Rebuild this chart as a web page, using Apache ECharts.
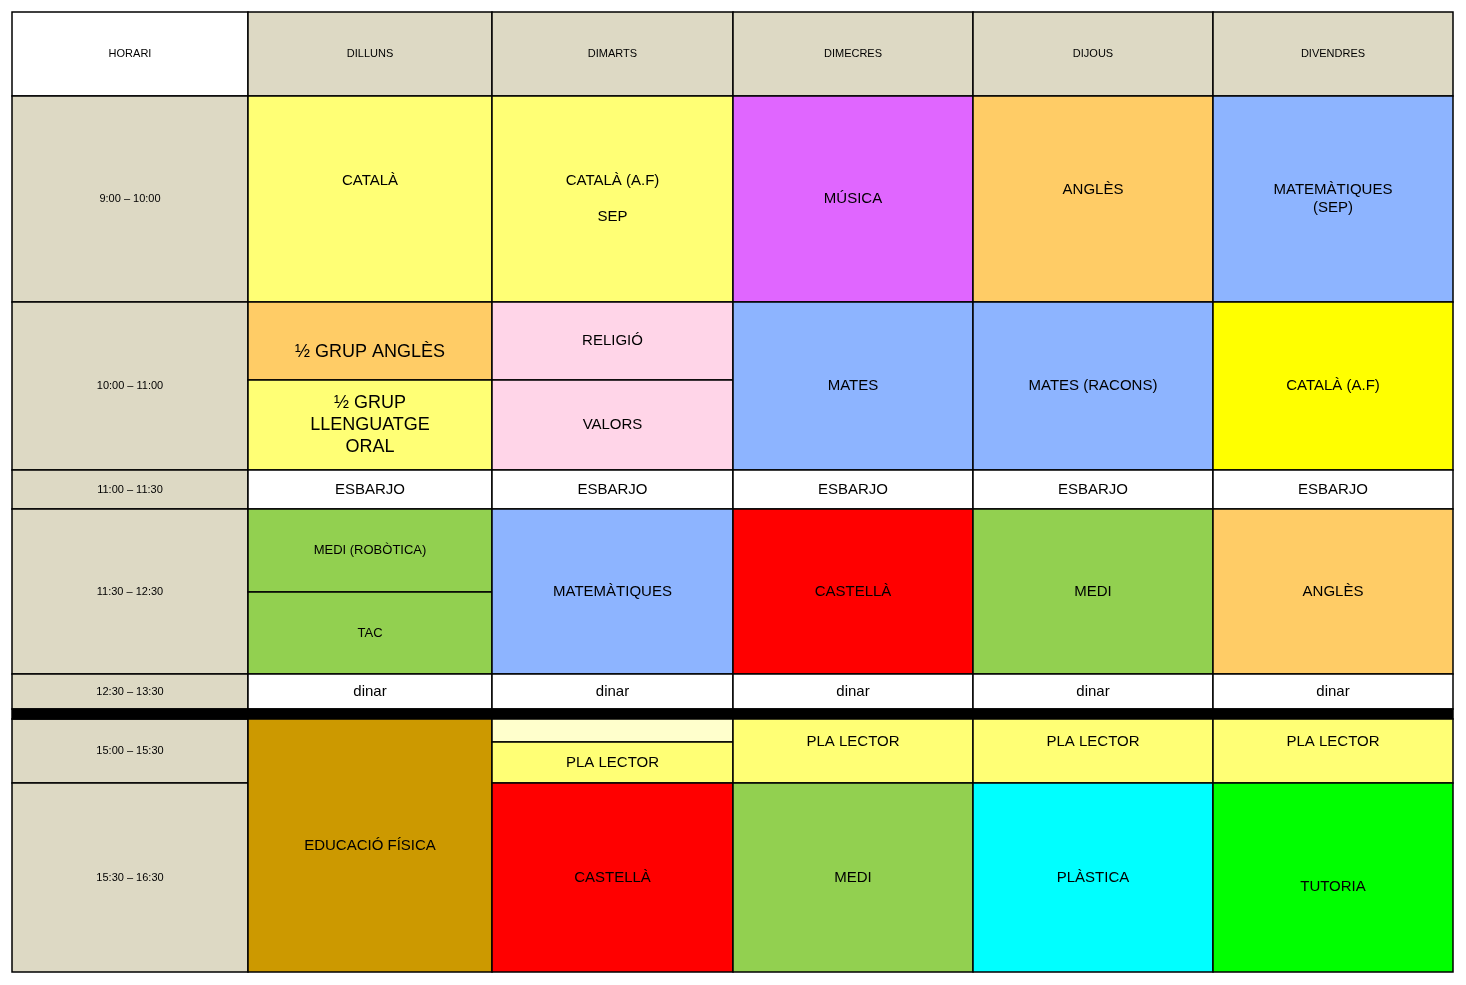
<!DOCTYPE html>
<html>
<head>
<meta charset="utf-8">
<script src="https://cdn.jsdelivr.net/npm/echarts/dist/echarts.min.js"></script>
<style>html,body{margin:0;background:#fff}#c{width:1466px;height:985px}</style>
</head>
<body>
<div id="c"></div>
<script>
// column and row edges of the grid
var colEdges = [12, 248, 492, 733, 973, 1213, 1453];
var rowEdges = [12, 96, 302, 470, 509, 674, 709, 719, 783, 972];

var days = ['DILLUNS', 'DIMARTS', 'DIMECRES', 'DIJOUS', 'DIVENDRES'];
var hours = ['9:00 – 10:00', '10:00 – 11:00', '11:00 – 11:30', '11:30 – 12:30', '12:30 – 13:30', '', '15:00 – 15:30', '15:30 – 16:30'];

// cells: [colStart, colEnd, yTop, yBottom, colour, text, fontSize]
var cells = [
  [0, 1, 12, 96, '#ffffff', 'HORARI', 11],
  [1, 2, 12, 96, '#ddd9c4', 'DILLUNS', 11],
  [2, 3, 12, 96, '#ddd9c4', 'DIMARTS', 11],
  [3, 4, 12, 96, '#ddd9c4', 'DIMECRES', 11],
  [4, 5, 12, 96, '#ddd9c4', 'DIJOUS', 11],
  [5, 6, 12, 96, '#ddd9c4', 'DIVENDRES', 11],
  [0, 1, 96, 302, '#ddd9c4', '9:00 – 10:00', 11],
  [0, 1, 302, 470, '#ddd9c4', '10:00 – 11:00', 11],
  [0, 1, 470, 509, '#ddd9c4', '11:00 – 11:30', 11],
  [0, 1, 509, 674, '#ddd9c4', '11:30 – 12:30', 11],
  [0, 1, 674, 709, '#ddd9c4', '12:30 – 13:30', 11],
  [0, 1, 719, 783, '#ddd9c4', '15:00 – 15:30', 11],
  [0, 1, 783, 972, '#ddd9c4', '15:30 – 16:30', 11],
  [1, 2, 96, 302, '#ffff75', 'CATALÀ\n\n', 15],
  [2, 3, 96, 302, '#ffff75', 'CATALÀ (A.F)\n\nSEP', 15],
  [3, 4, 96, 302, '#e066ff', 'MÚSICA', 15],
  [4, 5, 96, 302, '#ffcc66', 'ANGLÈS\n', 15],
  [5, 6, 96, 302, '#8db4ff', 'MATEMÀTIQUES\n(SEP)', 15],
  [1, 2, 302, 380, '#ffcc66', '\n½ GRUP ANGLÈS', 18],
  [1, 2, 380, 470, '#ffff75', '½ GRUP\nLLENGUATGE\nORAL', 18],
  [2, 3, 302, 380, '#ffd5e8', 'RELIGIÓ', 15],
  [2, 3, 380, 470, '#ffd5e8', 'VALORS', 15],
  [3, 4, 302, 470, '#8db4ff', 'MATES', 15],
  [4, 5, 302, 470, '#8db4ff', 'MATES (RACONS)', 15],
  [5, 6, 302, 470, '#ffff00', 'CATALÀ (A.F)', 15],
  [1, 2, 470, 509, '#ffffff', 'ESBARJO', 15],
  [2, 3, 470, 509, '#ffffff', 'ESBARJO', 15],
  [3, 4, 470, 509, '#ffffff', 'ESBARJO', 15],
  [4, 5, 470, 509, '#ffffff', 'ESBARJO', 15],
  [5, 6, 470, 509, '#ffffff', 'ESBARJO', 15],
  [1, 2, 509, 592, '#92d050', 'MEDI (ROBÒTICA)', 13],
  [1, 2, 592, 674, '#92d050', 'TAC', 13],
  [2, 3, 509, 674, '#8db4ff', 'MATEMÀTIQUES', 15],
  [3, 4, 509, 674, '#ff0000', 'CASTELLÀ', 15],
  [4, 5, 509, 674, '#92d050', 'MEDI', 15],
  [5, 6, 509, 674, '#ffcc66', 'ANGLÈS', 15],
  [1, 2, 674, 709, '#ffffff', 'dinar', 15],
  [2, 3, 674, 709, '#ffffff', 'dinar', 15],
  [3, 4, 674, 709, '#ffffff', 'dinar', 15],
  [4, 5, 674, 709, '#ffffff', 'dinar', 15],
  [5, 6, 674, 709, '#ffffff', 'dinar', 15],
  [0, 6, 709, 719, '#000000', '', 15],
  [1, 2, 719, 972, '#cc9900', 'EDUCACIÓ FÍSICA', 15],
  [2, 3, 719, 742, '#ffffcc', '', 15],
  [2, 3, 742, 783, '#ffff75', 'PLA LECTOR', 15],
  [3, 4, 719, 783, '#ffff75', 'PLA LECTOR\n', 15],
  [4, 5, 719, 783, '#ffff75', 'PLA LECTOR\n', 15],
  [5, 6, 719, 783, '#ffff75', 'PLA LECTOR\n', 15],
  [2, 3, 783, 972, '#ff0000', 'CASTELLÀ', 15],
  [3, 4, 783, 972, '#92d050', 'MEDI', 15],
  [4, 5, 783, 972, '#00ffff', 'PLÀSTICA', 15],
  [5, 6, 783, 972, '#00ff00', '\nTUTORIA', 15]
];

var chart = echarts.init(document.getElementById('c'));
chart.setOption({
  animation: false,
  grid: { left: 0, right: 0, top: 0, bottom: 0 },
  xAxis: { type: 'value', min: 0, max: 1466, show: false },
  yAxis: { type: 'value', min: 0, max: 985, inverse: true, show: false },
  series: [{
    type: 'custom',
    data: cells.map(function (c) { return [colEdges[c[0]], colEdges[c[1]], c[2], c[3]]; }),
    renderItem: function (params, api) {
      var c = cells[params.dataIndex];
      var p0 = api.coord([api.value(0), api.value(2)]);
      var p1 = api.coord([api.value(1), api.value(3)]);
      var small = c[6] <= 11;
      return {
        type: 'group',
        children: [{
          type: 'rect',
          shape: { x: p0[0], y: p0[1], width: p1[0] - p0[0], height: p1[1] - p0[1] },
          style: { fill: c[4], stroke: '#000', lineWidth: 1.5 }
        }, {
          type: 'text',
          style: {
            x: (p0[0] + p1[0]) / 2, y: (p0[1] + p1[1]) / 2,
            text: c[5], align: 'center', verticalAlign: 'middle',
            font: (small && c[0] !== 0 || c[5] === 'HORARI' ? '' : '') + c[6] + 'px "Liberation Sans", Arial, sans-serif',
            fill: '#000', lineHeight: c[6] * 1.2
          }
        }]
      };
    }
  }]
});
</script>
</body>
</html>
